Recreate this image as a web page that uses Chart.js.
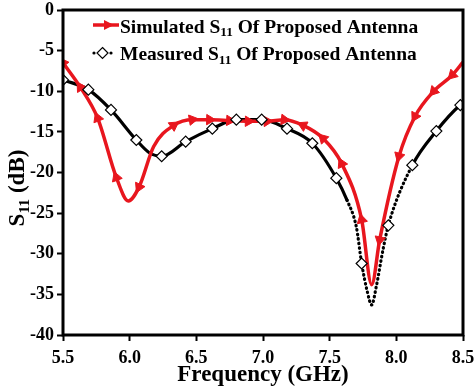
<!DOCTYPE html>
<html><head><meta charset="utf-8">
<script src="https://cdn.jsdelivr.net/npm/chart.js@4/dist/chart.umd.min.js"></script>
<style>html,body{margin:0;padding:0;background:#fff}canvas{display:block}</style>
</head><body>
<canvas id="c" width="474" height="388"></canvas>
<script>
// ---- data ----
const simFreq = [5.50, 5.63, 5.76, 5.90, 5.99, 6.07, 6.18, 6.33, 6.47, 6.60, 6.75, 6.89, 7.03, 7.16, 7.30, 7.45, 7.59, 7.74, 7.815, 7.875, 8.02, 8.14, 8.28, 8.42, 8.50];
const simS11  = [-6.5, -9.5, -13.3, -20.6, -23.5, -21.8, -16.8, -14.2, -13.5, -13.5, -13.6, -13.7, -13.7, -13.5, -14.2, -15.8, -18.9, -25.8, -33.8, -28.3, -18.0, -13.1, -10.0, -8.0, -6.4];
const measFreq = [5.50, 5.69, 5.86, 6.05, 6.15, 6.24, 6.42, 6.62, 6.80, 6.99, 7.18, 7.37, 7.55, 7.63, 7.70, 7.74, 7.78, 7.815, 7.85, 7.90, 7.94, 8.12, 8.30, 8.48, 8.50];
const measS11  = [-8.6, -9.8, -12.3, -16.0, -17.6, -18.0, -16.2, -14.6, -13.5, -13.5, -14.6, -16.4, -20.7, -23.4, -26.7, -31.2, -34.5, -36.3, -34.0, -29.5, -26.5, -19.1, -14.9, -11.7, -11.5];
const xTicks = [5.5, 6.0, 6.5, 7.0, 7.5, 8.0, 8.5];
const yTicks = [0, -5, -10, -15, -20, -25, -30, -35, -40];
const simName  = ['Simulated S', '11', ' Of Proposed Antenna'];
const measName = ['Measured S', '11', ' Of Proposed Antenna'];
const xTitle = 'Frequency (GHz)';
const yTitle = ['S', '11', ' (dB)'];

// ---- styles (marker placement / arrow direction) ----
const simArrow = [-1,-1,-1,-1,0,-1,0,1,1,1,1,1,1,1,-1,-1,-1,-1,0,-1,-1,-1,-1,-1,0];
const measMark = [1,1,1,1,0,1,1,1,1,1,1,1,1,0,0,1,0,0,0,0,1,1,1,1,0];
const RED = '#e8161e';
const FONT = 'Liberation Serif, Times New Roman, serif';

const simData = simFreq.map((f, i) => ({x: f, y: simS11[i]}));
const measData = measFreq.map((f, i) => ({x: f, y: measS11[i]}));

function arrowRotation(ctx) {
  const i = ctx.dataIndex, ch = ctx.chart;
  const sx = ch.scales.x, sy = ch.scales.y;
  if (!sx || !sy) return 0;
  const a = simData[Math.max(0, i - 1)], b = simData[Math.min(simData.length - 1, i + 1)];
  let dx = sx.getPixelForValue(b.x) - sx.getPixelForValue(a.x);
  let dy = sy.getPixelForValue(b.y) - sy.getPixelForValue(a.y);
  if (simArrow[i] < 0) { dx = -dx; dy = -dy; }
  return Math.atan2(dy, dx) * 180 / Math.PI + 90;
}

function drawRich(c, parts, x, y, size, align) {
  const subSize = size * 0.68;
  const fonts = parts.map((p, k) => k === 1 ? 'bold ' + subSize + 'px ' + FONT : 'bold ' + size + 'px ' + FONT);
  let w = 0;
  const widths = parts.map((p, k) => { c.font = fonts[k]; const m = c.measureText(p).width; w += m; return m; });
  let cx = align === 'center' ? x - w / 2 : x;
  parts.forEach((p, k) => {
    c.font = fonts[k];
    c.fillText(p, cx, k === 1 ? y + size * 0.2 : y);
    cx += widths[k];
  });
}

const framePlugin = {
  id: 'frame',
  afterDraw(chart) {
    const c = chart.ctx, a = chart.chartArea;
    c.save();
    c.strokeStyle = '#000';
    c.lineWidth = 3;
    c.strokeRect(a.left, a.top, a.right - a.left, a.bottom - a.top);
    c.fillStyle = '#000';
    c.textBaseline = 'alphabetic';
    c.textAlign = 'left';
    // x title
    c.font = 'bold 23px ' + FONT;
    const xw = c.measureText(xTitle).width;
    c.fillText(xTitle, (a.left + a.right) / 2 - xw / 2, 381);
    // y title
    c.save();
    c.translate(24, 188);
    c.rotate(-Math.PI / 2);
    drawRich(c, yTitle, 0, 0, 23, 'center');
    c.restore();
    // legend
    const lx = a.left + 30;
    c.strokeStyle = RED; c.lineWidth = 3.5;
    c.beginPath(); c.moveTo(lx, 25); c.lineTo(lx + 26, 25); c.stroke();
    c.fillStyle = RED;
    c.beginPath(); c.moveTo(lx + 21, 25); c.lineTo(lx + 11, 20); c.lineTo(lx + 11, 30); c.closePath(); c.fill();
    c.fillStyle = '#000';
    drawRich(c, simName, lx + 27, 32.5, 19.5, 'left');
    // measured legend
    c.fillStyle = '#000';
    c.beginPath(); c.arc(lx + 1, 53, 1.6, 0, Math.PI * 2); c.fill();
    c.beginPath(); c.arc(lx + 18, 53, 1.6, 0, Math.PI * 2); c.fill();
    c.strokeStyle = '#000'; c.lineWidth = 1.2; c.fillStyle = '#fff';
    c.beginPath(); c.moveTo(lx + 9.5, 47.5); c.lineTo(lx + 15, 53); c.lineTo(lx + 9.5, 58.5); c.lineTo(lx + 4, 53); c.closePath(); c.fill(); c.stroke();
    c.fillStyle = '#000';
    drawRich(c, measName, lx + 27, 60, 19.5, 'left');
    c.restore();
  }
};

new Chart(document.getElementById('c'), {
  type: 'line',
  data: {
    datasets: [
      {
        label: 'measured markers', data: measData, showLine: false, order: 0,
        pointStyle: 'rectRot', pointRadius: ctx => measMark[ctx.dataIndex] ? 5.5 : 0,
        pointBackgroundColor: '#fff', pointBorderColor: '#000', pointBorderWidth: 1.2
      },
      {
        label: 'Simulated', data: simData, order: 1,
        borderColor: RED, borderWidth: 3.5, cubicInterpolationMode: 'monotone',
        pointStyle: 'triangle', pointRadius: ctx => simArrow[ctx.dataIndex] ? 6 : 0,
        pointBackgroundColor: RED, pointBorderColor: RED, pointBorderWidth: 1,
        pointRotation: arrowRotation
      },
      {
        label: 'Measured', data: measData, order: 2,
        borderColor: '#000', borderWidth: 3.2, cubicInterpolationMode: 'monotone',
        borderCapStyle: 'round', pointRadius: 0,
        segment: {
          borderDash: ctx => {
            const dx = ctx.p1.x - ctx.p0.x, dy = ctx.p1.y - ctx.p0.y;
            return Math.abs(dy) > 2.5 * Math.abs(dx) ? [0.5, 4] : undefined;
          }
        }
      }
    ]
  },
  options: {
    responsive: false, animation: false,
    layout: {padding: {left: 0, right: 11, top: 10, bottom: 0}},
    plugins: {legend: {display: false}, tooltip: {enabled: false}},
    scales: {
      x: {
        type: 'linear', min: 5.5, max: 8.5,
        afterFit: s => { s.height = 53; s.paddingLeft = 0; s.paddingRight = 0; },
        afterBuildTicks: s => { s.ticks = xTicks.map(v => ({value: v})); },
        ticks: {color: '#000', font: {family: FONT, weight: 'bold', size: 18}, padding: 7,
          callback: v => Number(v).toFixed(1), maxRotation: 0, autoSkip: false},
        grid: {drawOnChartArea: false, drawTicks: true, tickLength: 6, tickWidth: 2, color: '#000'},
        border: {display: false}
      },
      y: {
        min: -40, max: 0,
        afterFit: s => { s.width = 63; s.paddingTop = 0; s.paddingBottom = 0; },
        afterBuildTicks: s => { s.ticks = yTicks.map(v => ({value: v})); },
        ticks: {color: '#000', font: {family: FONT, weight: 'bold', size: 18}, padding: 3,
          callback: v => String(v), autoSkip: false},
        grid: {drawOnChartArea: false, drawTicks: true, tickLength: 6, tickWidth: 2, color: '#000'},
        border: {display: false}
      }
    }
  },
  plugins: [framePlugin]
});
</script>
</body></html>
